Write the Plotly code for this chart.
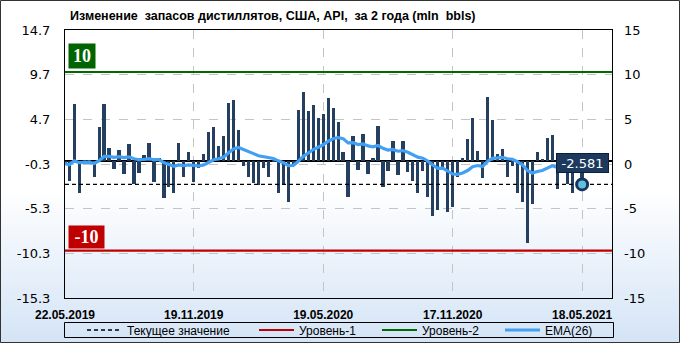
import zlib, struct, base64
import pandas as pd
import plotly.graph_objects as go

# ---------------- data ----------------
first_date = ["2019-05-22"]
weekly_dates = [d.strftime("%Y-%m-%d") for d in pd.date_range("2019-05-28", periods=104, freq="7D")]
dates = first_date + weekly_dates

values = [
    -0.26, -2.2, 6.4, -3.5, 0.1, 0.2, -1.75, 3.8, 6.4, 1.5,
    -0.9, 1.3, -1.4, 1.9, -2.5, -1.3, 0.7, 2.1, -2.3, 0.4,
    -4.1, -2.9, -3.5, 2.1, -1.7, 1.0, -2.3, -0.7, 0.86, 3.3,
    3.8, 1.7, 2.8, 6.5, 6.9, 3.5, -0.5, -1.8, -2.4, -2.7,
    -0.7, -1.7, 0.2, -3.6, -2.6, -4.5, -0.3, 5.75, 7.75, 5.6,
    6.25, 4.8, 5.3, 7.05, 6.0, 4.35, 1.0, -4.0, 2.8, -1.0,
    3.1, -1.4, 0.34, 3.9, -2.9, -1.1, 2.3, -1.5, 2.3, -1.2,
    -2.2, -3.5, -1.1, -4.0, -6.1, -5.4, -0.6, -5.7, -5.1, -1.8,
    0.4, 2.5, 4.8, 1.1, -1.9, 7.2, 4.6, 0.86, 1.4, -1.7,
    -0.5, -3.5, -4.5, -9.1, -4.8, 1.0, 0.3, 2.65, 2.9, -3.1,
    -0.8, -2.5, -3.5, -0.5, -2.581,
]

ema26 = [
    -0.26, -0.38, 0.05, -0.15, -0.12, -0.10, -0.24, 0.08, 0.55, 0.56,
    0.45, 0.52, 0.41, 0.50, 0.28, 0.18, 0.20, 0.30, 0.18, 0.18,
    -0.15, -0.37, -0.56, -0.40, -0.48, -0.40, -0.48, -0.52, -0.40, -0.13,
    0.17, 0.28, 0.47, 0.95, 1.38, 1.55, 1.35, 1.12, 0.86, 0.62,
    0.50, 0.35, 0.32, 0.05, -0.15, -0.47, -0.46, 0.00, 0.56, 0.93,
    1.32, 1.58, 1.85, 2.25, 2.52, 2.66, 2.54, 2.06, 2.10, 1.88,
    1.96, 1.72, 1.63, 1.78, 1.45, 1.26, 1.33, 1.13, 1.20, 1.02,
    0.78, 0.47, 0.35, 0.04, -0.41, -0.78, -0.77, -1.13, -1.42, -1.45,
    -1.31, -1.03, -0.60, -0.47, -0.58, 0.00, 0.34, 0.38, 0.45, 0.29,
    0.23, -0.05, -0.38, -1.03, -1.31, -1.14, -1.03, -0.76, -0.49, -0.68,
    -0.69, -0.82, -1.02, -0.98, -1.10,
]

level_1 = -10
level_2 = 10
current_value = values[-1]

tick_dates = ["2019-05-22", "2019-11-19", "2020-05-19", "2020-11-17", "2021-05-18"]
tick_labels = ["22.05.2019", "19.11.2019", "19.05.2020", "17.11.2020", "18.05.2021"]
x_start, x_end = "2019-05-22", "2021-06-29"

left_ticks = [-15.3, -10.3, -5.3, -0.3, 4.7, 9.7, 14.7]
right_ticks = [-15, -10, -5, 0, 5, 10, 15]

title_text = "Изменение  запасов дистиллятов, США, API,  за 2 года (mln  bbls)"

# ---------------- geometry helpers ----------------
W, H = 680, 343
PL, PR, PT, PB = 65, 612, 30, 298
PW, PH = PR - PL, PB - PT


def px(xp):
    return (xp - PL) / PW


def py(yp):
    return (PB - yp) / PH


# gradient background png
def gradient_png(h, top, bottom, start):
    raw = b""
    for r in range(h):
        t = r / (h - 1)
        f = 0.0 if t < start else (t - start) / (1 - start)
        c = bytes(round(top[k] + (bottom[k] - top[k]) * f) for k in range(3))
        raw += b"\x00" + c * 4
    def chunk(tag, data):
        return struct.pack(">I", len(data)) + tag + data + struct.pack(">I", zlib.crc32(tag + data) & 0xffffffff)
    png = b"\x89PNG\r\n\x1a\n" + chunk(b"IHDR", struct.pack(">IIBBBBB", 4, h, 8, 2, 0, 0, 0))
    png += chunk(b"IDAT", zlib.compress(raw)) + chunk(b"IEND", b"")
    return "data:image/png;base64," + base64.b64encode(png).decode()


bg_src = gradient_png(343, (255, 255, 255), (212, 228, 246), 0.55)

BAR_C = "#243f60"
EMA_C = "#42a0f4"
AX_FONT = dict(family="DejaVu Sans", size=13, color="black")

fig = go.Figure()

fig.add_trace(go.Bar(x=dates, y=values, marker=dict(color=BAR_C, line=dict(width=0)),
                     width=4.6 * 86400000, showlegend=False, hoverinfo="skip"))

fig.add_trace(go.Scatter(x=[x_start, x_end], y=[current_value] * 2, mode="lines",
                         line=dict(color="black", width=1.3, dash="4px,3px"),
                         name="Текущее значение", legendwidth=122))
fig.add_trace(go.Scatter(x=[x_start, x_end], y=[level_1] * 2, mode="lines",
                         line=dict(color="#c00000", width=2.2), name="Уровень-1", legendwidth=73))
fig.add_trace(go.Scatter(x=[x_start, x_end], y=[level_2] * 2, mode="lines",
                         line=dict(color="#006a00", width=2.2), name="Уровень-2", legendwidth=73))
fig.add_trace(go.Scatter(x=dates, y=ema26, mode="lines",
                         line=dict(color=EMA_C, width=3.2), name="EMA(26)", legendwidth=55))
fig.add_trace(go.Scatter(x=[dates[-1]], y=[current_value], mode="markers",
                         marker=dict(size=11, color="#62bfe0", line=dict(color="#17355a", width=3)),
                         showlegend=False, hoverinfo="skip"))
fig.add_trace(go.Scatter(x=[dates[0]], y=[0], yaxis="y2", mode="markers",
                         marker=dict(opacity=0), showlegend=False, hoverinfo="skip"))

fig.update_layout(
    width=W, height=H,
    margin=dict(l=PL, r=W - PR, t=PT, b=H - PB, pad=0, autoexpand=False),
    paper_bgcolor="white", plot_bgcolor="rgba(0,0,0,0)",
    bargap=0, showlegend=True,
    xaxis=dict(type="date", range=[x_start, x_end], tickvals=tick_dates, ticktext=tick_labels,
               showgrid=True, gridcolor="#c4c4c4", griddash="dash", gridwidth=1,
               showline=True, linecolor="black", linewidth=1, mirror=True,
               ticks="", ticklabelstandoff=6, automargin=False,
               tickfont=dict(family="Liberation Sans", size=12, color="black", weight="bold")),
    yaxis=dict(range=[-15.3, 14.7], tickvals=left_ticks, ticktext=[f"{v:.1f}" for v in left_ticks],
               showgrid=True, gridcolor="#c4c4c4", griddash="dash", gridwidth=1,
               zeroline=True, zerolinecolor="black", zerolinewidth=1.5,
               showline=True, linecolor="black", linewidth=1, mirror=True, automargin=False,
               ticks="", ticklabelstandoff=11, tickfont=AX_FONT),
    yaxis2=dict(range=[-15, 15], tickvals=right_ticks, ticktext=[str(v) for v in right_ticks],
                overlaying="y", side="right", showgrid=False, zeroline=False, showline=False,
                ticks="", ticklabelstandoff=11, tickfont=AX_FONT, automargin=False),
    legend=dict(orientation="h", x=px(82), y=py(330), xanchor="left", yanchor="middle",
                bgcolor="rgba(0,0,0,0)", borderwidth=0,
                font=dict(family="Liberation Sans", size=12, color="black"),
                itemwidth=35, tracegroupgap=0),
    images=[dict(source=bg_src, xref="paper", yref="paper", x=px(0), y=py(0),
                 sizex=W / PW, sizey=H / PH, sizing="stretch", xanchor="left", yanchor="top",
                 layer="below")],
    shapes=[
        dict(type="rect", xref="paper", yref="paper", x0=px(0.5), x1=px(679.5),
             y0=py(342.5), y1=py(0.5), line=dict(color="#333333", width=1), layer="above"),
        dict(type="rect", xref="paper", yref="paper", x0=px(64.5), x1=px(613.5),
             y0=py(337.5), y1=py(322.5), line=dict(color="black", width=1), layer="above"),
    ],
)

fig.add_annotation(xref="paper", yref="paper", x=px(68), y=py(16), xanchor="left", yanchor="middle",
                   text=title_text, showarrow=False,
                   font=dict(family="Liberation Sans", size=12.5, color="black", weight="bold"))
fig.add_annotation(xref="paper", yref="paper", x=px(68), y=py(43), xanchor="left", yanchor="top",
                   text=str(level_2), showarrow=False, bgcolor="#006400", width=26, height=24, borderpad=0,
                   font=dict(family="Liberation Serif", size=18, color="white", weight="bold"))
fig.add_annotation(xref="paper", yref="paper", x=px(68), y=py(225), xanchor="left", yanchor="top",
                   text=str(level_1), showarrow=False, bgcolor="#c00000", width=35, height=22, borderpad=0,
                   font=dict(family="Liberation Serif", size=18, color="white", weight="bold"))
fig.add_annotation(xref="paper", yref="paper", x=px(556), y=py(153), xanchor="left", yanchor="top",
                   text=f"{current_value:.3f}", showarrow=False, bgcolor="#1c3a5e",
                   bordercolor="#0b1f3a", borderwidth=1, width=51, height=18, borderpad=0,
                   font=dict(family="DejaVu Sans", size=13, color="white"))

fig.write_html("out.html")
